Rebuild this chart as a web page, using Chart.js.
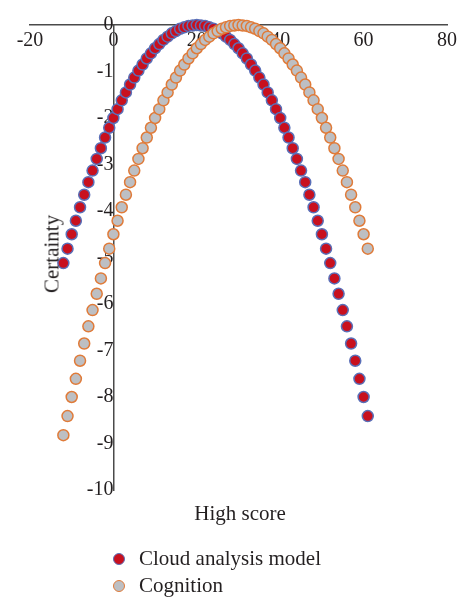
<!DOCTYPE html>
<html>
<head>
<meta charset="utf-8">
<script src="https://cdn.jsdelivr.net/npm/chart.js@4/dist/chart.umd.min.js"></script>
<style>
    body { margin: 0; background: #fff; }
    #wrap { position: relative; width: 474px; height: 614px; font-family: 'Liberation Serif', 'DejaVu Serif', serif; color: #231f20; }
    #chart { position: absolute; left: 0; top: 0; }
    .lbl { position: absolute; font-size: 21px; white-space: nowrap; line-height: 1; }
    #ytitle { left: 52px; top: 254px; transform: translate(-50%, -50%) rotate(-90deg); }
    #xtitle { left: 240px; top: 513px; transform: translate(-50%, -50%); }
    .dot { position: absolute; width: 10px; height: 10px; border-radius: 50%; transform: translate(-50%, -50%); }
</style>
</head>
<body>
<div id="wrap">
    <canvas id="chart" width="474" height="614"></canvas>
    <div class="lbl" id="ytitle">Certainty</div>
    <div class="lbl" id="xtitle">High score</div>
    <div class="dot" style="left:119px; top:559px; background:#c8101e; border:1.5px solid #5a6fb8;"></div>
    <div class="lbl" style="left:139px; top:548px;">Cloud analysis model</div>
    <div class="dot" style="left:119px; top:586px; background:#bdbfc3; border:1.5px solid #e07b39;"></div>
    <div class="lbl" style="left:139px; top:575px;">Cognition</div>
</div>
<script>
// values
const scoreX = [-12, -11, -10, -9, -8, -7, -6, -5, -4, -3, -2, -1, 0, 1, 2, 3, 4, 5, 6, 7, 8, 9,
    10, 11, 12, 13, 14, 15, 16, 17, 18, 19, 20, 21, 22, 23, 24, 25, 26, 27, 28, 29, 30, 31, 32,
    33, 34, 35, 36, 37, 38, 39, 40, 41, 42, 43, 44, 45, 46, 47, 48, 49, 50, 51, 52, 53, 54, 55,
    56, 57, 58, 59, 60, 61];

const cloudModel = [-5.12, -4.81, -4.5, -4.21, -3.92, -3.65, -3.38, -3.13, -2.88, -2.65, -2.42,
    -2.21, -2.0, -1.81, -1.62, -1.45, -1.28, -1.13, -0.98, -0.85, -0.72, -0.61, -0.5, -0.41, -0.32,
    -0.25, -0.18, -0.13, -0.08, -0.05, -0.02, -0.01, 0,
    -0.01, -0.02, -0.05, -0.08, -0.13, -0.18, -0.25, -0.32, -0.41, -0.5, -0.61, -0.72, -0.85, -0.98,
    -1.13, -1.28, -1.45, -1.62, -1.81, -2.0, -2.21, -2.42, -2.65, -2.88, -3.13, -3.38, -3.65, -3.92,
    -4.21, -4.5, -4.81, -5.12, -5.45, -5.78, -6.13, -6.48, -6.85, -7.22, -7.61, -8.0, -8.41];

const cognition = [-8.82, -8.41, -8.0, -7.61, -7.22, -6.85, -6.48, -6.13, -5.78, -5.45,
    -5.12, -4.81, -4.5, -4.21, -3.92, -3.65, -3.38, -3.13, -2.88, -2.65, -2.42, -2.21, -2.0, -1.81,
    -1.62, -1.45, -1.28, -1.13, -0.98, -0.85, -0.72, -0.61, -0.5, -0.41, -0.32, -0.25, -0.18, -0.13,
    -0.08, -0.05, -0.02, -0.01, 0,
    -0.01, -0.02, -0.05, -0.08, -0.13, -0.18, -0.25, -0.32, -0.41, -0.5, -0.61, -0.72, -0.85, -0.98,
    -1.13, -1.28, -1.45, -1.62, -1.81, -2.0, -2.21, -2.42, -2.65, -2.88, -3.13, -3.38, -3.65, -3.92,
    -4.21, -4.5, -4.81];

const seriesNames = ['Cloud analysis model', 'Cognition'];

const toPoints = ys => scoreX.map((x, i) => ({ x: x, y: ys[i] }));

const tickFont = { family: "'Liberation Serif', 'DejaVu Serif', serif", size: 20 };
const textColor = '#231f20';
const axisColor = '#4a4a4a';

new Chart(document.getElementById('chart'), {
    type: 'scatter',
    data: {
        datasets: [
            {
                label: seriesNames[0],
                data: toPoints(cloudModel),
                backgroundColor: '#c8101e',
                borderColor: '#5a6fb8',
                borderWidth: 1.5,
                pointRadius: 5.5,
                order: 1,
                clip: false
            },
            {
                label: seriesNames[1],
                data: toPoints(cognition),
                backgroundColor: '#bdbfc3',
                borderColor: '#e07b39',
                borderWidth: 1.5,
                pointRadius: 5.5,
                order: 0,
                clip: false
            }
        ]
    },
    options: {
        responsive: false,
        animation: false,
        layout: {
            padding: { left: 30, right: 27, top: 25, bottom: 124 }
        },
        plugins: {
            legend: { display: false },
            tooltip: { enabled: false }
        },
        scales: {
            x: {
                type: 'linear',
                min: -20,
                max: 80,
                position: { y: 0 },
                ticks: { stepSize: 20, font: tickFont, color: textColor, padding: 4 },
                grid: { display: false, drawTicks: false },
                border: { color: axisColor, width: 1.5 }
            },
            y: {
                type: 'linear',
                min: -10,
                max: 0,
                position: { x: 0 },
                ticks: { stepSize: 1, font: tickFont, color: textColor, padding: 11 },
                grid: { display: false, drawTicks: false },
                border: { color: axisColor, width: 1.5 }
            }
        }
    }
});
</script>
</body>
</html>
